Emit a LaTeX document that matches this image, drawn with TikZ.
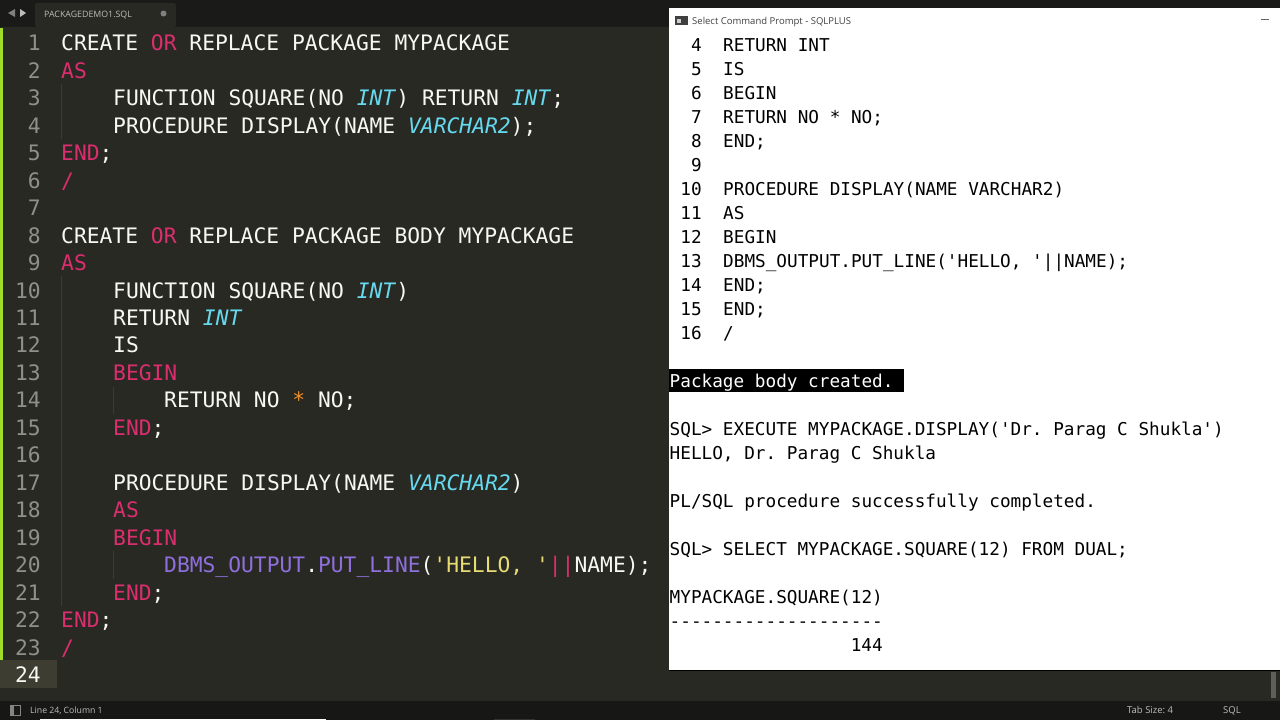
\documentclass[tikz,border=0pt]{standalone}
\usepackage{fontspec}
\newfontfamily\codefont[Ligatures=ResetAll]{DejaVu Sans Mono}
\newfontfamily\uifont{Open Sans}
\definecolor{edbg}{HTML}{282923}
\definecolor{barbg}{HTML}{1A1A18}
\definecolor{statbg}{HTML}{171816}
\definecolor{gut}{HTML}{8F908A}
\definecolor{kw}{HTML}{DB2E6E}
\definecolor{ty}{HTML}{66D9EF}
\definecolor{fn}{HTML}{8F6FDC}
\definecolor{st}{HTML}{E6DB74}
\definecolor{op}{HTML}{F0902A}
\definecolor{guide}{HTML}{3A3B35}
\definecolor{plain}{HTML}{F8F8F2}
\definecolor{hl}{HTML}{3E3D32}
\definecolor{lime}{HTML}{A0DC2A}
\definecolor{uitx}{HTML}{BDBDB8}
\newcommand{\K}[1]{\textcolor{kw}{#1}}
\newcommand{\T}[1]{\textcolor{ty}{\textit{#1}}}
\newcommand{\F}[1]{\textcolor{fn}{#1}}
\newcommand{\Q}[1]{\textcolor{st}{#1}}
\newcommand{\Oo}[1]{\textcolor{op}{#1}}
\tikzset{
 x=1pt,y=-1pt,
 code/.style={anchor=base west,inner sep=0pt,yshift=0.3pt,text=plain,font=\fontsize{21.3}{24}\selectfont\codefont},
 gno/.style={anchor=base east,inner sep=0pt,yshift=0.3pt,text=gut,font=\fontsize{21.3}{24}\selectfont\codefont},
 term/.style={anchor=base west,inner sep=0pt,text=black,font=\fontsize{17.7}{20}\selectfont\codefont},
 tno/.style={anchor=base east,inner sep=0pt,text=black,font=\fontsize{17.7}{20}\selectfont\codefont},
 ui/.style={anchor=base west,inner sep=0pt,text=uitx,font=\fontsize{9.5}{11}\selectfont\uifont},
 guideline/.style={draw=guide,line width=0.8pt},
}
\frenchspacing
\begin{document}
\begin{tikzpicture}
\useasboundingbox (0,0) rectangle (1280,720);
% backgrounds
\fill[barbg] (0,0) rectangle (1280,27);
\fill[edbg] (0,27) rectangle (1280,701);
\fill[statbg] (0,701) rectangle (1280,720);
\fill[edbg,rounded corners=2pt] (35,3) rectangle (176,27);
\fill[lime] (0,28) rectangle (3,660);
\fill[hl] (0,660) rectangle (57,688);
\fill[white] (40,718.5) rectangle (326,720);
\fill[black!60!gray] (494,718.5) rectangle (535,720);
\fill[white!25!edbg] (1271,672) rectangle (1276,698);
% tab bar
\fill[gray] (15,9) -- (15,17) -- (8,13) -- cycle;
\fill[uitx] (20,9) -- (20,17) -- (26,13) -- cycle;
\fill[gray] (163.5,13.5) circle (3);
\node[ui,font=\fontsize{8.8}{11}\selectfont\uifont] (tabname) at (44,17) {PACKAGEDEMO1.SQL};
% indent guides
\draw[guideline] (61.5,84) -- (61.5,139);
\draw[guideline] (61.5,276) -- (61.5,606);
\draw[guideline] (113,387) -- (113,414);
\draw[guideline] (113,551) -- (113,579);
% gutter numbers
\foreach \n in {1,...,23} {
  \node[gno] (g\n) at (41,{51+27.48*(\n-1)}) {\n};
}
\node[gno,text=plain] (g24) at (41,683) {24};
% code
\node[code] (c1) at (61,51) {CREATE \K{OR} REPLACE PACKAGE MYPACKAGE};
\node[code] (c2) at (61,78.5) {\K{AS}};
\node[code] (c3) at (113,106) {FUNCTION SQUARE(NO \T{INT}) RETURN \T{INT};};
\node[code] (c4) at (113,133.4) {PROCEDURE DISPLAY(NAME \T{VARCHAR2});};
\node[code] (c5) at (61,160.9) {\K{END};};
\node[code] (c6) at (61,188.4) {\K{/}};
\node[code] (c8) at (61,243.4) {CREATE \K{OR} REPLACE PACKAGE BODY MYPACKAGE};
\node[code] (c9) at (61,270.8) {\K{AS}};
\node[code] (c10) at (113,298.3) {FUNCTION SQUARE(NO \T{INT})};
\node[code] (c11) at (113,325.8) {RETURN \T{INT}};
\node[code] (c12) at (113,353.2) {IS};
\node[code] (c13) at (113,380.7) {\K{BEGIN}};
\node[code] (c14) at (164,408.2) {RETURN NO \Oo{*} NO;};
\node[code] (c15) at (113,435.7) {\K{END};};
\node[code] (c17) at (113,490.6) {PROCEDURE DISPLAY(NAME \T{VARCHAR2})};
\node[code] (c18) at (113,518.1) {\K{AS}};
\node[code] (c19) at (113,545.6) {\K{BEGIN}};
\node[code] (c20) at (164,573) {\F{DBMS\_OUTPUT}.\F{PUT\_LINE}(\Q{'HELLO, '}\K{||}NAME);};
\node[code] (c21) at (113,600.5) {\K{END};};
\node[code] (c22) at (61,628) {\K{END};};
\node[code] (c23) at (61,655.4) {\K{/}};
% terminal window
\fill[black] (669,8) rectangle (1280,671);
\fill[white] (669,8) rectangle (1280,670);
\draw[gray!80!black,line width=1pt] (1261,19.5) -- (1269,19.5);
\fill[black!75] (675,16) rectangle (688,25);
\fill[white!80!black] (676.5,18.5) rectangle (681,22.5);
\node[ui,text=black!75,font=\fontsize{9.5}{12}\selectfont\uifont] (title) at (692,24) {Select Command Prompt - SQLPLUS};
\foreach \n [count=\i from 0] in {4,...,16} {
  \node[tno] (t\n) at (702,{51+24*\i}) {\n};
}
\node[term] (l4) at (723,51) {RETURN INT};
\node[term] (l5) at (723,75) {IS};
\node[term] (l6) at (723,99) {BEGIN};
\node[term] (l7) at (723,123) {RETURN NO * NO;};
\node[term] (l8) at (723,147) {END;};
\node[term] (l10) at (723,195) {PROCEDURE DISPLAY(NAME VARCHAR2)};
\node[term] (l11) at (723,219) {AS};
\node[term] (l12) at (723,243) {BEGIN};
\node[term] (l13) at (723,267) {DBMS\_OUTPUT.PUT\_LINE('HELLO, '||NAME);};
\node[term] (l14) at (723,291) {END;};
\node[term] (l15) at (723,315) {END;};
\node[term] (l16) at (723,339) {/};
\fill[black] (669,369) rectangle (904,392);
\node[term,text=white] (m1) at (669.5,387) {Package body created.};
\node[term] (m2) at (669.5,435) {SQL> EXECUTE MYPACKAGE.DISPLAY('Dr. Parag C Shukla')};
\node[term] (m3) at (669.5,459) {HELLO, Dr. Parag C Shukla};
\node[term] (m4) at (669.5,507) {PL/SQL procedure successfully completed.};
\node[term] (m5) at (669.5,555) {SQL> SELECT MYPACKAGE.SQUARE(12) FROM DUAL;};
\node[term] (m6) at (669.5,603) {MYPACKAGE.SQUARE(12)};
\node[term] (m7) at (669.5,627) {--------------------};
\node[tno] (m8) at (883,651) {144};
% status bar
\draw[uitx!70!black,line width=0.8pt] (10.5,705.5) rectangle (20.5,715.5);
\fill[uitx!70!black] (10.5,705.5) rectangle (14,715.5);
\node[ui,font=\fontsize{8.7}{11}\selectfont\uifont] (s1) at (30,713.5) {Line 24, Column 1};
\node[ui] (s2) at (1127,713.5) {Tab Size: 4};
\node[ui] (s3) at (1223,713.5) {SQL};
\end{tikzpicture}
\end{document}
